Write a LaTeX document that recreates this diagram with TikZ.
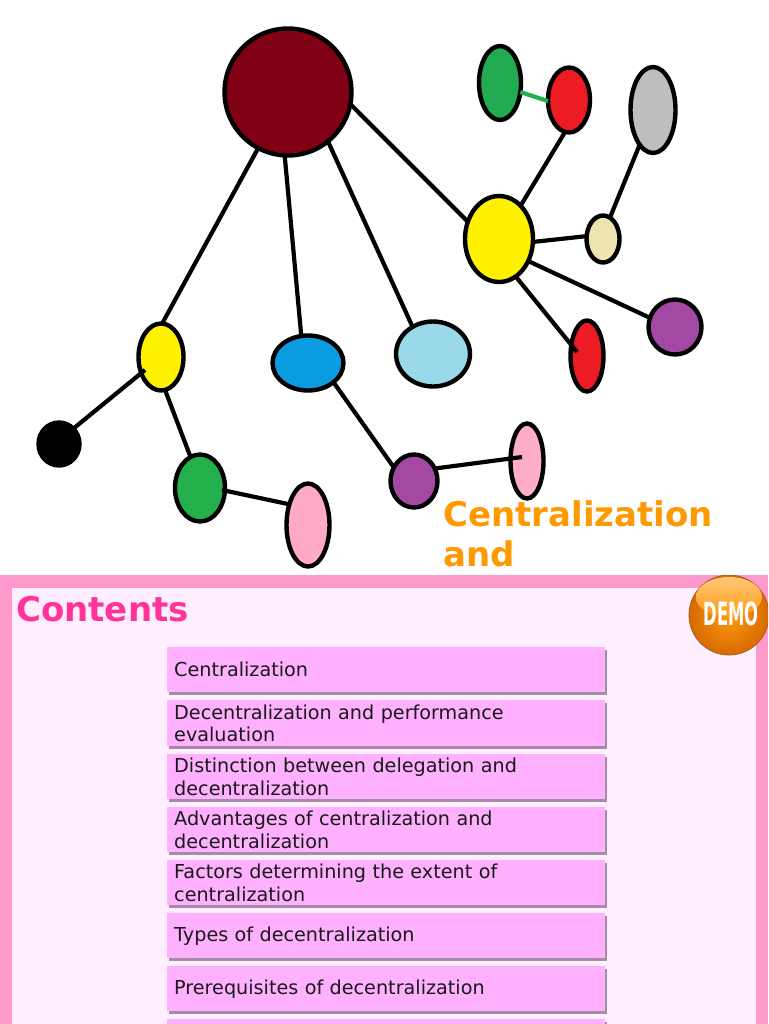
\documentclass[tikz,border=0pt]{standalone}
\usepackage{fontspec}
\setmainfont{DejaVu Sans}
\usetikzlibrary{shapes.geometric,shadows}
\definecolor{frameP}{HTML}{FF99CC}
\definecolor{innerP}{HTML}{FFEEFF}
\definecolor{boxP}{HTML}{FFB0FF}
\definecolor{shadowP}{HTML}{A58CA5}
\definecolor{titleP}{HTML}{FF3399}
\definecolor{titleO}{HTML}{FF9900}
\definecolor{demoA}{HTML}{FF9A10}
\definecolor{demoB}{HTML}{D86A00}
\definecolor{demoC}{HTML}{FFC878}
\definecolor{demoR}{HTML}{A85A20}
\tikzset{
  blob/.style={ellipse,draw=black,line width=4.4pt,inner sep=0pt,outer sep=0pt},
  link/.style={draw=black,line width=4.2pt},
  itembox/.style={rectangle,anchor=north west,fill=boxP,minimum width=438pt,text width=424pt,inner xsep=7pt,inner ysep=0pt,minimum height=45pt,align=left,font=\fontsize{19.2}{22.5}\selectfont,text=black!90,general shadow={fill=shadowP,shadow xshift=1.5pt,shadow yshift=-2.5pt}},
  head/.style={anchor=base west,inner sep=0pt,font=\fontsize{34}{40}\selectfont\bfseries}
}
\begin{document}
\begin{tikzpicture}[x=1pt,y=-1pt]
\useasboundingbox (0,0) rectangle (768,1024);
\clip (0,0) rectangle (768,1024);
\fill[white] (0,0) rectangle (768,1024);
% graph nodes
\node[blob,fill={rgb,255:red,128;green,0;blue,20},minimum width=127pt,minimum height=127pt] (root) at (288,92) {};
\node[blob,fill=yellow,minimum width=68pt,minimum height=86pt] (yb) at (499,239) {};
\node[blob,fill={rgb,255:red,34;green,170;blue,80},minimum width=42pt,minimum height=74pt] (gt) at (500,83) {};
\node[blob,fill={rgb,255:red,237;green,28;blue,36},minimum width=42pt,minimum height=65pt] (rt) at (569,100) {};
\node[blob,fill={rgb,255:red,190;green,190;blue,190},minimum width=45pt,minimum height=86pt] (gr) at (653,110) {};
\node[blob,fill={rgb,255:red,239;green,228;blue,176},minimum width=33pt,minimum height=47pt] (cr) at (603,239) {};
\node[blob,fill={rgb,255:red,163;green,73;blue,164},minimum width=53pt,minimum height=55pt] (pr) at (675,327) {};
\node[blob,fill={rgb,255:red,237;green,28;blue,36},minimum width=33pt,minimum height=71pt] (rb) at (587,356) {};
\node[blob,fill=yellow,minimum width=45pt,minimum height=67pt] (yl) at (161,357) {};
\node[blob,fill=black,minimum width=41pt,minimum height=43pt] (bk) at (59,444) {};
\node[blob,fill={rgb,255:red,34;green,177;blue,76},minimum width=50pt,minimum height=67pt] (gl) at (200,488) {};
\node[blob,fill={rgb,255:red,255;green,170;blue,200},minimum width=43pt,minimum height=83pt] (pk) at (308,525) {};
\node[blob,fill={rgb,255:red,10;green,155;blue,225},minimum width=71pt,minimum height=55pt] (bl) at (308,363) {};
\node[blob,fill={rgb,255:red,153;green,217;blue,234},minimum width=74pt,minimum height=65pt] (lb) at (433,354) {};
\node[blob,fill={rgb,255:red,163;green,73;blue,164},minimum width=47pt,minimum height=53pt] (pm) at (414,481) {};
\node[blob,fill={rgb,255:red,255;green,174;blue,201},minimum width=33pt,minimum height=75pt] (pn) at (527,461) {};
% free connector ends inside the blobs
\coordinate (rbin) at (577,352);
\coordinate (ylin) at (145,370);
\coordinate (glin) at (222,490);
\coordinate (pnin) at (522,457);
% connectors
\draw[link] (root.242) -- (yl.88);
\draw[link] (root.267) -- (bl.104);
\draw[link] (root.-51) -- (lb.127);
\draw[link] (root.-11.5) -- (yb.151);
\draw[link] (yb.57) -- (rt.263);
\draw[link,draw={rgb,255:red,34;green,177;blue,76}] (gt.-24) -- (rt.183);
\draw[link] (gr.249) -- (cr.72);
\draw[link] (yb.-5) -- (cr.170);
\draw[link] (yb.-37) -- (pr.160);
\draw[link] (yb.-66) -- (rbin);
\draw[link] (ylin) -- (bk.47);
\draw[link] (yl.-83) -- (gl.107);
\draw[link] (glin) -- (pk.132);
\draw[link] (bl.-37) -- (pm.146);
\draw[link] (pm.31) -- (pnin);
% title
\node[head,text=titleO] (t1) at (443,526) {Centralization};
\node[head,text=titleO] (t2) at (443,566) {and};
% slide
\fill[frameP] (0,575) rectangle (768,1024);
\fill[innerP] (12,588) rectangle (756,1024);
\node[head,text=titleP] (ct) at (16,621) {Contents};
% demo button
\begin{scope}
\clip (0,575) rectangle (768,1024);
\shade[inner color=demoA,outer color=demoB,draw=demoR,line width=.8pt] (729,615) circle (40pt);
\shade[top color=demoC,bottom color=demoA,draw=none] (729,597) ellipse (33pt and 20pt);
\end{scope}
\node[inner sep=0pt,text=white,font=\bfseries\fontsize{20}{20}\selectfont,xscale=.82,yscale=1.6] (demo) at (731,614) {DEMO};
% contents
\node[itembox] (b1) at (167,647) {Centralization};
\node[itembox,minimum height=46pt] (b2) at (167,700) {Decentralization and performance\\evaluation};
\node[itembox] (b3) at (167,754) {Distinction between delegation and\\decentralization};
\node[itembox] (b4) at (167,807) {Advantages of centralization and\\decentralization};
\node[itembox] (b5) at (167,860) {Factors determining the extent of\\centralization};
\node[itembox] (b6) at (167,913) {\raisebox{-2pt}{Types of decentralization}};
\node[itembox] (b7) at (167,966) {\raisebox{-2pt}{Prerequisites of decentralization}};
\node[itembox] (b8) at (167,1019) {};
\end{tikzpicture}
\end{document}
